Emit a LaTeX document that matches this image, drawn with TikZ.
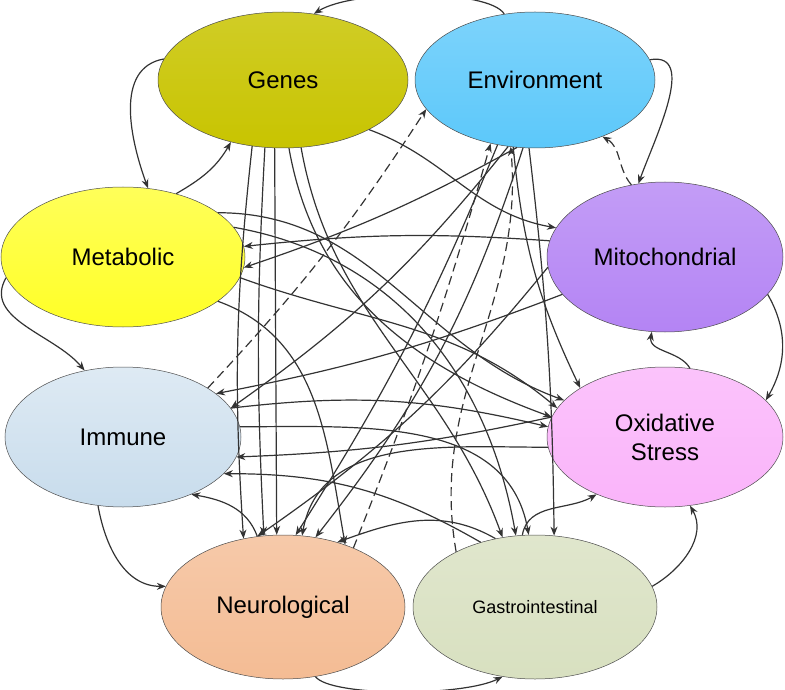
\documentclass[tikz,border=0pt]{standalone}
\usepackage{fontspec}
\setmainfont{Liberation Sans}
\usetikzlibrary{shapes.geometric,arrows.meta}
\begin{document}
\begin{tikzpicture}[x=1pt,y=-1pt,
  el/.style={ellipse,draw=black!70,line width=0.5pt,font=\fontsize{24}{29}\selectfont,align=center,inner sep=0pt},
  ar/.style={-{Stealth[length=9pt,width=7pt]},line width=1.2pt,black!80},
  da/.style={ar,dash pattern=on 9pt off 5pt}]
\useasboundingbox (0,0) rectangle (785,690);
\definecolor{cG}{HTML}{C8C400}
\definecolor{cE}{HTML}{5CC8FA}
\definecolor{cMi}{HTML}{B484F4}
\definecolor{cI}{HTML}{C8DCEC}
\definecolor{cO}{HTML}{FAB4FA}
\definecolor{cN}{HTML}{F4BC94}
\definecolor{cGI}{HTML}{D8E0C0}
\node[el,minimum width=250,minimum height=136,top color=cG!85!white,bottom color=cG] (G) at (283,80) {Genes};
\node[el,minimum width=240,minimum height=136,top color=cE!80!white,bottom color=cE] (E) at (535,80) {Environment};
\node[el,minimum width=244,minimum height=140,top color=yellow!65,bottom color=yellow!85] (M) at (123,257) {Metabolic};
\node[el,minimum width=236,minimum height=150,top color=cMi!80!white,bottom color=cMi] (Mi) at (665,257) {Mitochondrial};
\node[el,minimum width=236,minimum height=140,top color=cI!60!white,bottom color=cI] (I) at (123,437) {Immune};
\node[el,minimum width=236,minimum height=140,top color=cO!80!white,bottom color=cO] (O) at (665,437) {Oxidative\\Stress};
\node[el,minimum width=244,minimum height=144,top color=cN!80!white,bottom color=cN] (N) at (283,607) {Neurological};
\node[el,minimum width=244,minimum height=144,font=\fontsize{18}{22}\selectfont,top color=cGI!80!white,bottom color=cGI] (GI) at (535,607) {Gastrointestinal};
% outer ring
\draw[ar] (E.115) .. controls +(-15,-25) and +(40,-25) .. (G.65);
\draw[ar] (G.170) to[out=190,in=110] (M.70);
\draw[ar] (M.190) to[out=240,in=130] (I.120);
\draw[ar] (I.-110) to[out=-80,in=180] (N.170);
\draw[ar] (N.-65) .. controls +(15,20) and +(-40,20) .. (GI.-115);
\draw[ar] (GI.10) to[out=30,in=-60] (O.-70);
\draw[ar] (Mi.-20) to[out=-60,in=60] (O.20);
\draw[ar] (E.10) to[out=10,in=70] (Mi.110);
% short reverse
\draw[ar] (M.50) to[out=30,in=-120] (G.-130);
\draw[da] (Mi.115) to[out=130,in=-30] (E.-40);
\draw[ar] (O.70) to[out=120,in=-100] (Mi.-100);
\draw[ar] (GI.100) to[out=80,in=-150] (O.-140);
\draw[ar] (GI.120) to[out=150,in=20] (N.50);
\draw[ar] (N.110) to[out=110,in=-10] (I.-40);
% internal
\draw[ar] (G.-105) to[bend right=3] (N.105);
\draw[ar] (G.-97) to (N.95);
\draw[ar] (G.-115) to[bend right=5] (N.120);
\draw[ar] (G.-75) to[out=-80,in=110] (GI.115);
\draw[ar] (G.-85) to[out=-80,in=160] (O.170);
\draw[ar] (G.-30) to[out=-20,in=170] (Mi.165);
\draw[ar] (E.-120) to[bend left=5] (N.80);
\draw[ar] (E.-112) to[bend left=8] (I.15);
\draw[ar] (E.-105) to[bend left=5] (M.-5);
\draw[ar] (E.-95) to[bend left=3] (GI.75);
\draw[ar] (E.-108) to[bend right=10] (O.150);
\draw[ar] (E.-100) to[bend left=10] (N.65);
\draw[da] (I.30) to[bend right=5] (E.-165);
\draw[da] (N.40) to[bend right=3] (E.-125);
\draw[da] (GI.145) to[out=100,in=-85] (E.-110);
\draw[ar] (I.15) to[bend left=10] (O.175);
\draw[ar] (O.170) to[bend left=5] (I.-10);
\draw[ar] (GI.130) to[bend right=15] (I.-20);
\draw[ar] (M.25) to[out=0,in=160] (O.160);
\draw[ar] (M.15) to[out=-10,in=100] (GI.105);
\draw[ar] (M.-25) to[out=-20,in=100] (N.45);
\draw[ar] (Mi.172) to[bend right=5] (M.5);
\draw[ar] (Mi.185) to[bend left=8] (N.110);
\draw[ar] (Mi.200) to[bend left=5] (I.25);
\draw[ar] (O.185) to[out=180,in=80] (N.75);
\draw[ar] (I.5) to[out=0,in=100] (GI.95);
\draw[ar] (M.-10) to[out=-20,in=140] (O.165);
\end{tikzpicture}
\end{document}
